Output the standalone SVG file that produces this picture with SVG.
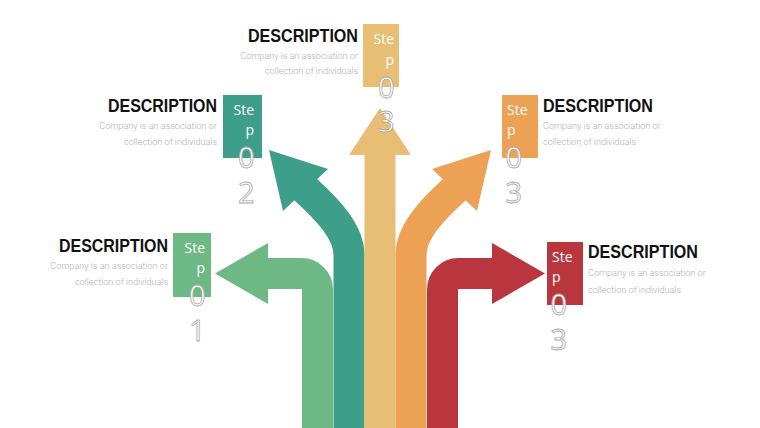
<svg xmlns="http://www.w3.org/2000/svg" width="760" height="428" viewBox="0 0 760 428">
  <style>
    .shaft { fill: none; stroke-width: 31; stroke-linecap: butt; stroke-linejoin: round; }
    .title { font-family: "Liberation Sans", Arial, sans-serif; font-weight: bold; font-size: 18px; fill: #111111; }
    .body { font-family: Roboto, "Liberation Sans", sans-serif; font-weight: 300; font-size: 9.1px; fill: #b0b0b0; }
    .small { font-family: "Open Sans", "Noto Sans", sans-serif; font-size: 14px; fill: #ffffff; }
    .big { font-family: "Open Sans", "Noto Sans", sans-serif; font-size: 29px; fill: #ffffff; stroke: #a8a8a8; stroke-width: 0.8px; }
    .c1 { fill: #6db883; } .s1 { stroke: #6db883; }
    .c2 { fill: #3d9e89; } .s2 { stroke: #3d9e89; }
    .c3 { fill: #e7be73; } .s3 { stroke: #e7be73; }
    .c4 { fill: #eda154; } .s4 { stroke: #eda154; }
    .c5 { fill: #b9363f; } .s5 { stroke: #b9363f; }
  </style>
  <rect width="760" height="428" fill="#ffffff"/>

  <g id="connectors">
    <path class="shaft s1" d="M317.5 428 V289.5 A16 16 0 0 0 301.5 273.5 H265"/>
    <polygon class="c1" points="268,243 215,273.5 268,304"/>
    <path class="shaft s2" d="M349 428 V255 C349 232 328 210 306 190 L302 186"/>
    <polygon class="c2" points="269,150 328,169 283,211"/>
    <path class="shaft s3" d="M380 428 V152"/>
    <polygon class="c3" points="349,155 380,108 411,155"/>
    <path class="shaft s4" d="M411 428 V255 C411 232 432 210 454 190 L458 186"/>
    <polygon class="c4" points="491,150 432,169 477,211"/>
    <path class="shaft s5" d="M442.5 428 V289.5 A16 16 0 0 1 458.5 273.5 H495"/>
    <polygon class="c5" points="492,243 545,273.5 492,304"/>
  </g>

  <g id="step01">
    <rect class="c1" x="173" y="233" width="38" height="64"/>
    <text class="small" x="205" y="252.5" text-anchor="end">Ste</text>
    <text class="small" x="205" y="273" text-anchor="end">p</text>
    <text class="big" x="205.5" y="305.5" text-anchor="end">0</text>
    <text class="big" x="205.5" y="340.5" text-anchor="end">1</text>
    <text class="title" x="168" y="252" text-anchor="end" textLength="109" lengthAdjust="spacingAndGlyphs">DESCRIPTION</text>
    <text class="body" x="168" y="269" text-anchor="end">Company is an association or</text>
    <text class="body" x="168" y="284.5" text-anchor="end">collection of individuals</text>
  </g>

  <g id="step02">
    <rect class="c2" x="223" y="95" width="39" height="63"/>
    <text class="small" x="254" y="114.5" text-anchor="end">Ste</text>
    <text class="small" x="254" y="135" text-anchor="end">p</text>
    <text class="big" x="254.5" y="167.5" text-anchor="end">0</text>
    <text class="big" x="254.5" y="202.5" text-anchor="end">2</text>
    <text class="title" x="217" y="112" text-anchor="end" textLength="109" lengthAdjust="spacingAndGlyphs">DESCRIPTION</text>
    <text class="body" x="217" y="129" text-anchor="end">Company is an association or</text>
    <text class="body" x="217" y="145" text-anchor="end">collection of individuals</text>
  </g>

  <g id="step03-top">
    <rect class="c3" x="363" y="24" width="36" height="63"/>
    <text class="small" x="394" y="44" text-anchor="end">Ste</text>
    <text class="small" x="394" y="64.5" text-anchor="end">p</text>
    <text class="big" x="394.5" y="97.5" text-anchor="end">0</text>
    <text class="big" x="394.5" y="132" text-anchor="end">3</text>
    <text class="title" x="358" y="42" text-anchor="end" textLength="110" lengthAdjust="spacingAndGlyphs">DESCRIPTION</text>
    <text class="body" x="358" y="58.5" text-anchor="end">Company is an association or</text>
    <text class="body" x="358" y="74" text-anchor="end">collection of individuals</text>
  </g>

  <g id="step03-right">
    <rect class="c4" x="502" y="95" width="36" height="63"/>
    <text class="small" x="507" y="114.5">Ste</text>
    <text class="small" x="507" y="135">p</text>
    <text class="big" x="505.5" y="167.5">0</text>
    <text class="big" x="505.5" y="202.5">3</text>
    <text class="title" x="543" y="112" textLength="110" lengthAdjust="spacingAndGlyphs">DESCRIPTION</text>
    <text class="body" x="543" y="129">Company is an association or</text>
    <text class="body" x="543" y="145">collection of individuals</text>
  </g>

  <g id="step03-bottom">
    <rect class="c5" x="547" y="242" width="36" height="63"/>
    <text class="small" x="552" y="261.5">Ste</text>
    <text class="small" x="552" y="282">p</text>
    <text class="big" x="550.5" y="314.5">0</text>
    <text class="big" x="550.5" y="349.5">3</text>
    <text class="title" x="588" y="258" textLength="110" lengthAdjust="spacingAndGlyphs">DESCRIPTION</text>
    <text class="body" x="588" y="276">Company is an association or</text>
    <text class="body" x="588" y="293">collection of individuals</text>
  </g>
</svg>
